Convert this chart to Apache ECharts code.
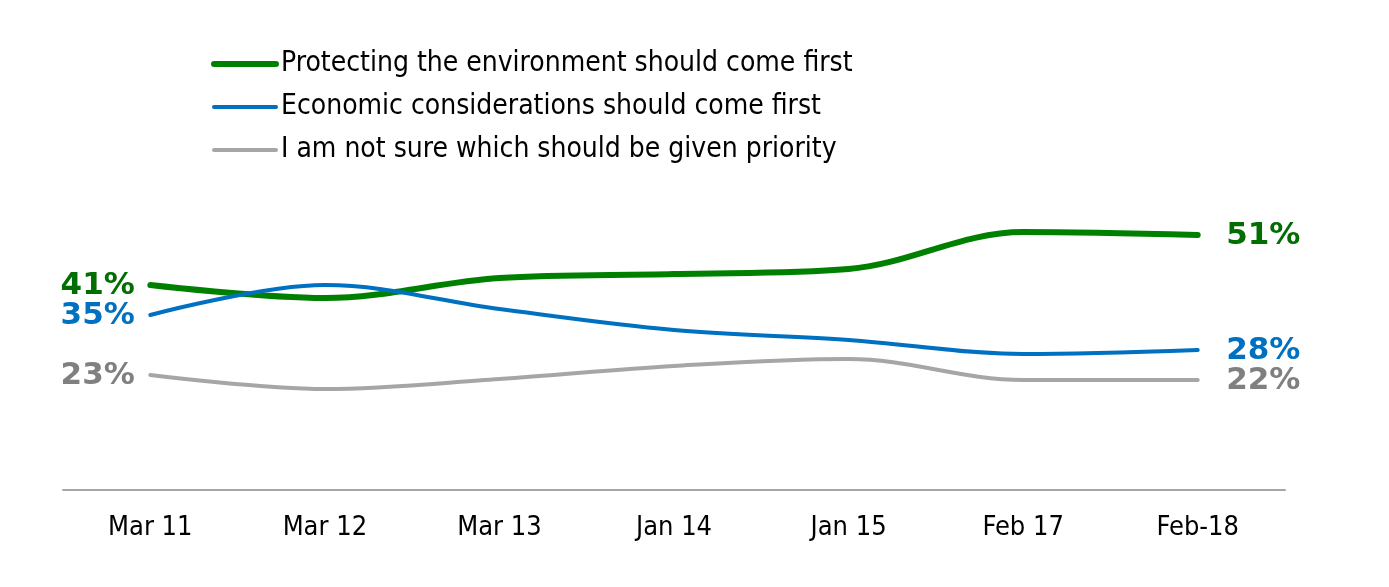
<!DOCTYPE html>
<html>
<head>
<meta charset="utf-8">
<script src="https://cdn.jsdelivr.net/npm/echarts@6/dist/echarts.min.js"></script>
<style>
  html, body { margin: 0; padding: 0; background: #fff; }
  #chart { width: 1389px; height: 587px; }
</style>
</head>
<body>
<div id="chart"></div>
<script>
var categories = ["Mar 11", "Mar 12", "Mar 13", "Jan 14", "Jan 15", "Feb 17", "Feb-18"];
var environment = [41, 38.4, 42.4, 43.2, 44.2, 51.6, 51];
var economic = [35, 41, 36.2, 32, 30, 27.2, 28];
var notSure = [23, 20.2, 22.2, 24.8, 26.2, 22, 22];
var seriesNames = [
  "Protecting the environment should come first",
  "Economic considerations should come first",
  "I am not sure which should be given priority"
];

var chart = echarts.init(document.getElementById("chart"));

function endLabel(color) {
  return {
    show: true,
    color: color,
    fontFamily: "DejaVu Sans",
    fontWeight: "bold",
    fontSize: 31,
    formatter: function (p) {
      if (p.dataIndex === 0 || p.dataIndex === categories.length - 1) {
        return p.value + "%";
      }
      return "";
    }
  };
}

function makeSeries(name, data, color, width, labelColor) {
  return {
    name: name,
    type: "line",
    smooth: 0.35,
    symbol: "circle",
    symbolSize: 1,
    showSymbol: true,
    data: data,
    lineStyle: { color: color, width: width, cap: "round" },
    itemStyle: { color: color },
    label: endLabel(labelColor),
    labelLayout: function (p) {
      var last = p.dataIndex === categories.length - 1;
      return {
        x: last ? p.rect.x + 29 : p.rect.x - 15,
        y: p.rect.y + p.rect.height / 2 + 1,
        align: last ? "left" : "right",
        verticalAlign: "middle"
      };
    }
  };
}

function legendItem(name, color, width) {
  return {
    name: name,
    itemStyle: { opacity: 0 },
    lineStyle: { color: color, width: width, cap: "round" }
  };
}

var option = {
  backgroundColor: "#fff",
  animation: false,
  grid: { left: 63, right: 104, top: 190, bottom: 97 },
  legend: {
    orient: "vertical",
    left: 206,
    top: 45,
    itemWidth: 62,
    itemHeight: 14,
    itemGap: 15,
    textStyle: {
      fontFamily: "DejaVu Sans Condensed",
      fontSize: 28,
      color: "#000"
    },
    data: [
      legendItem(seriesNames[0], "#008000", 6),
      legendItem(seriesNames[1], "#0070c0", 4),
      legendItem(seriesNames[2], "#a6a6a6", 4)
    ]
  },
  xAxis: {
    type: "category",
    data: categories,
    boundaryGap: true,
    axisLine: { show: true, lineStyle: { color: "#a6a6a6", width: 2 } },
    axisTick: { show: false },
    axisLabel: {
      margin: 24,
      color: "#000",
      fontFamily: "DejaVu Sans Condensed",
      fontSize: 27
    }
  },
  yAxis: {
    type: "value",
    min: 0,
    max: 60,
    show: false,
    splitLine: { show: false }
  },
  series: [
    makeSeries(seriesNames[0], environment, "#008000", 6, "#006e00"),
    makeSeries(seriesNames[1], economic, "#0070c0", 4, "#0070c0"),
    makeSeries(seriesNames[2], notSure, "#a6a6a6", 4, "#808080")
  ]
};

chart.setOption(option);
</script>
</body>
</html>
